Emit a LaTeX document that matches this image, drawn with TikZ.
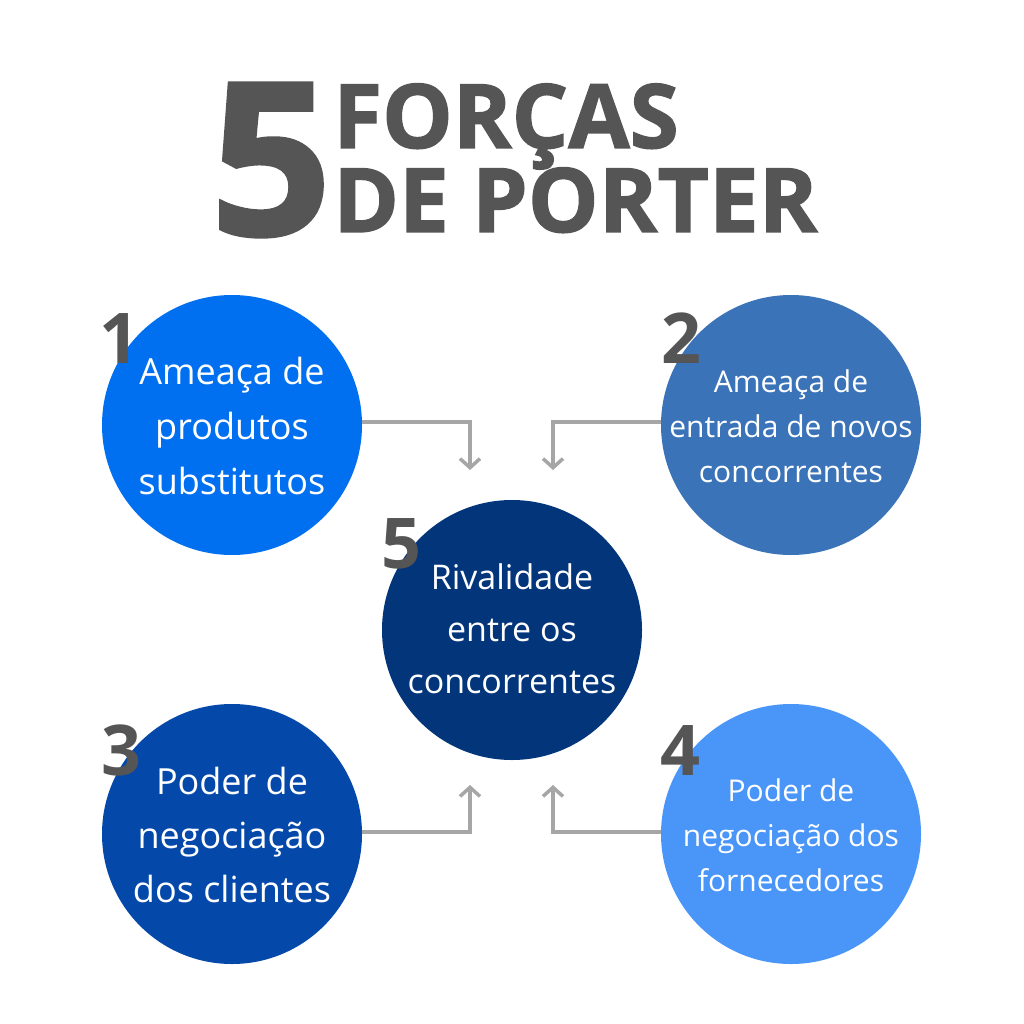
\documentclass[tikz,border=0pt]{standalone}
\usepackage{fontspec}
\setmainfont{Open Sans}
\newfontfamily\titlefont{Open Sans}[BoldFeatures={FakeBold=1.5}]
\usetikzlibrary{arrows.meta}
\definecolor{cA}{HTML}{0070F0}
\definecolor{cB}{HTML}{3B73B9}
\definecolor{cC}{HTML}{0448AA}
\definecolor{cD}{HTML}{4A96F8}
\definecolor{cE}{HTML}{03357A}
\definecolor{tgray}{HTML}{555555}
\definecolor{agray}{HTML}{A6A6A6}
\tikzset{
  force/.style={circle, minimum size=260pt, inner sep=0pt, draw=none},
  ftext/.style={text=white, align=center},
  numlbl/.style={text=tgray, font=\bfseries\fontsize{70}{70}\selectfont, anchor=base, inner sep=0pt},
  ttl/.style={anchor=base west, inner sep=0pt, text=tgray},
  conn/.style={draw=agray, line width=3.5pt, -{Straight Barb[length=9pt,width=20pt,line width=3.5pt]}},
}
\begin{document}
\begin{tikzpicture}[x=1pt,y=-1pt]
\useasboundingbox (0,0) rectangle (1024,1024);
\fill[white] (0,0) rectangle (1024,1024);
% title
\node[ttl, font=\titlefont\bfseries\fontsize{213}{213}\selectfont] (t5) at (210,235) {5};
\node[ttl, font=\titlefont\bfseries\fontsize{89}{89}\selectfont] (t1) at (333,148) {FORÇAS};
\node[ttl, font=\titlefont\bfseries\fontsize{89}{89}\selectfont] (t2) at (333,232) {DE PORTER};
% circles
\node[force, fill=cA] (f1) at (232,425) {};
\node[force, fill=cB] (f2) at (791,425) {};
\node[force, fill=cC] (f3) at (232,834) {};
\node[force, fill=cD] (f4) at (791,834) {};
\node[force, fill=cE] (f5) at (512,630) {};
% texts
\node[ftext, font=\fontsize{36}{55}\selectfont] (x1) at (232,426) {Ameaça de\\produtos\\substitutos};
\node[ftext, font=\fontsize{30}{45}\selectfont] (x2) at (791,426) {Ameaça de\\entrada de novos\\concorrentes};
\node[ftext, font=\fontsize{36}{54}\selectfont] (x3) at (232,835) {Poder de\\negociação\\dos clientes};
\node[ftext, font=\fontsize{30}{45}\selectfont] (x4) at (791,835) {Poder de\\negociação dos\\fornecedores};
\node[ftext, font=\fontsize{34}{52}\selectfont] (x5) at (512,629) {Rivalidade\\entre os\\concorrentes};
% numbers
\node[numlbl] (n1) at (119,363) {1};
\node[numlbl] (n2) at (681,363) {2};
\node[numlbl] (n3) at (121,775) {3};
\node[numlbl] (n4) at (680,775) {4};
\node[numlbl] (n5) at (401,568) {5};
% connectors
\coordinate (e1) at (470,470);
\coordinate (e2) at (553,470);
\coordinate (e3) at (470,785);
\coordinate (e4) at (553,785);
\draw[conn] (f1.east |- 0,422) -- (470,422) -- (e1);
\draw[conn] (f2.west |- 0,422) -- (553,422) -- (e2);
\draw[conn] (f3.east |- 0,832) -- (470,832) -- (e3);
\draw[conn] (f4.west |- 0,832) -- (553,832) -- (e4);
\end{tikzpicture}
\end{document}
